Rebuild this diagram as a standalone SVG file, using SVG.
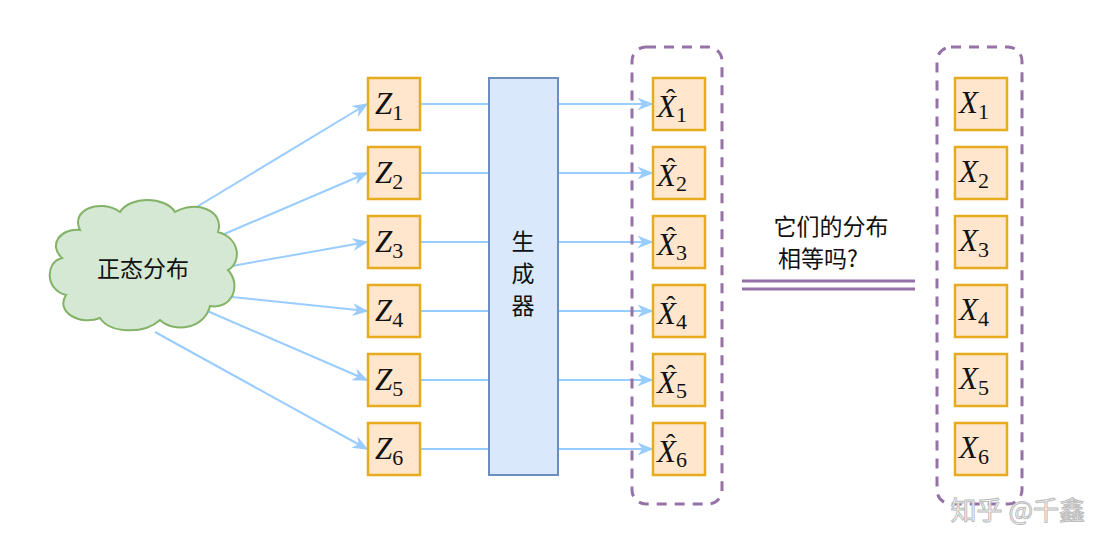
<svg xmlns="http://www.w3.org/2000/svg" width="1115" height="553" viewBox="0 0 1115 553">
<style>
.box{fill:#ffe6cc;stroke:#e6ac1e;stroke-width:2.5}
.m{font-family:"Liberation Serif",serif;font-size:31px;fill:#111}
.mi{font-style:italic}
.s{font-size:22px}
.hat{font-family:"Liberation Serif",serif;font-size:28px;fill:#111}
.cn{font-family:"Noto Sans CJK SC","Noto Sans",sans-serif;font-size:23px;fill:#111}
.ln{stroke:#99ccff;stroke-width:2;fill:none}
.dash{fill:none;stroke:#9673a6;stroke-width:3;stroke-dasharray:10 8}
</style>
<defs>
<marker id="ah2" viewBox="0 0 10 10" refX="9" refY="5" markerWidth="16" markerHeight="16" orient="auto" markerUnits="userSpaceOnUse"><path d="M0,1 L10,5 L0,9 L3,5 Z" fill="#99ccff"/></marker>
</defs>
<rect width="1115" height="553" fill="#fff"/>
<g id="connectors">
<path class="ln" marker-end="url(#ah2)" d="M175,220 L367,104"/>
<path class="ln" marker-end="url(#ah2)" d="M222,235 L367,173"/>
<path class="ln" marker-end="url(#ah2)" d="M232,266 L367,242"/>
<path class="ln" marker-end="url(#ah2)" d="M222,296 L367,311"/>
<path class="ln" marker-end="url(#ah2)" d="M205,310 L367,380"/>
<path class="ln" marker-end="url(#ah2)" d="M155,332 L367,449"/>
<path class="ln" d="M421,104H489M421,173H489M421,242H489M421,311H489M421,380H489M421,449H489"/>
<path class="ln" marker-end="url(#ah2)" d="M558,104H652"/>
<path class="ln" marker-end="url(#ah2)" d="M558,173H652"/>
<path class="ln" marker-end="url(#ah2)" d="M558,242H652"/>
<path class="ln" marker-end="url(#ah2)" d="M558,311H652"/>
<path class="ln" marker-end="url(#ah2)" d="M558,380H652"/>
<path class="ln" marker-end="url(#ah2)" d="M558,449H652"/>
</g>
<g id="cloud">
<path d="M80,230 C70,210 100,198 120,212 C130,196 165,196 175,212 C195,200 225,210 218,232 C240,238 242,262 228,270 C242,285 232,310 210,306 C205,328 175,334 160,320 C145,334 110,334 100,318 C80,326 55,312 66,295 C45,290 45,262 62,258 C48,245 60,228 80,230 Z" fill="#d5e8d4" stroke="#82b366" stroke-width="2"/>
<text class="cn" x="143" y="277" text-anchor="middle">正态分布</text>
</g>
<g id="generator">
<rect x="489" y="78" width="69" height="397" fill="#dae8fc" stroke="#6c8ebf" stroke-width="2"/>
<text class="cn" x="523" y="250" text-anchor="middle">生</text>
<text class="cn" x="523" y="282" text-anchor="middle">成</text>
<text class="cn" x="523" y="314" text-anchor="middle">器</text>
</g>
<g id="z-nodes">
<g id="z1"><rect class="box" x="368" y="78" width="52" height="52"/><text class="m" x="375" y="114"><tspan class="mi">Z</tspan><tspan class="s" dy="6">1</tspan></text></g>
<g id="z2"><rect class="box" x="368" y="147" width="52" height="52"/><text class="m" x="375" y="183"><tspan class="mi">Z</tspan><tspan class="s" dy="6">2</tspan></text></g>
<g id="z3"><rect class="box" x="368" y="216" width="52" height="52"/><text class="m" x="375" y="252"><tspan class="mi">Z</tspan><tspan class="s" dy="6">3</tspan></text></g>
<g id="z4"><rect class="box" x="368" y="285" width="52" height="52"/><text class="m" x="375" y="321"><tspan class="mi">Z</tspan><tspan class="s" dy="6">4</tspan></text></g>
<g id="z5"><rect class="box" x="368" y="354" width="52" height="52"/><text class="m" x="375" y="390"><tspan class="mi">Z</tspan><tspan class="s" dy="6">5</tspan></text></g>
<g id="z6"><rect class="box" x="368" y="423" width="52" height="52"/><text class="m" x="375" y="459"><tspan class="mi">Z</tspan><tspan class="s" dy="6">6</tspan></text></g>
</g>
<g id="generated-group">
<rect class="dash" x="632" y="47" width="90" height="457" rx="14"/>
<g id="xh1"><rect class="box" x="653" y="78" width="52" height="52"/><text class="m" x="657" y="117"><tspan class="mi">X</tspan><tspan class="s" dy="5">1</tspan></text><text class="hat" x="666" y="108">ˆ</text></g>
<g id="xh2"><rect class="box" x="653" y="147" width="52" height="52"/><text class="m" x="657" y="186"><tspan class="mi">X</tspan><tspan class="s" dy="5">2</tspan></text><text class="hat" x="666" y="177">ˆ</text></g>
<g id="xh3"><rect class="box" x="653" y="216" width="52" height="52"/><text class="m" x="657" y="255"><tspan class="mi">X</tspan><tspan class="s" dy="5">3</tspan></text><text class="hat" x="666" y="246">ˆ</text></g>
<g id="xh4"><rect class="box" x="653" y="285" width="52" height="52"/><text class="m" x="657" y="324"><tspan class="mi">X</tspan><tspan class="s" dy="5">4</tspan></text><text class="hat" x="666" y="315">ˆ</text></g>
<g id="xh5"><rect class="box" x="653" y="354" width="52" height="52"/><text class="m" x="657" y="393"><tspan class="mi">X</tspan><tspan class="s" dy="5">5</tspan></text><text class="hat" x="666" y="384">ˆ</text></g>
<g id="xh6"><rect class="box" x="653" y="423" width="52" height="52"/><text class="m" x="657" y="462"><tspan class="mi">X</tspan><tspan class="s" dy="5">6</tspan></text><text class="hat" x="666" y="453">ˆ</text></g>
</g>
<g id="question">
<text class="cn" x="831" y="235" text-anchor="middle">它们的分布</text>
<text class="cn" x="818" y="267" text-anchor="middle">相等吗?</text>
<path d="M742,281H915M742,289H915" stroke="#9673a6" stroke-width="3"/>
</g>
<g id="real-group">
<rect class="dash" x="937" y="47" width="85" height="457" rx="14"/>
<g id="x1"><rect class="box" x="955" y="78" width="52" height="52"/><text class="m" x="959" y="113"><tspan class="mi">X</tspan><tspan class="s" dy="6">1</tspan></text></g>
<g id="x2"><rect class="box" x="955" y="147" width="52" height="52"/><text class="m" x="959" y="182"><tspan class="mi">X</tspan><tspan class="s" dy="6">2</tspan></text></g>
<g id="x3"><rect class="box" x="955" y="216" width="52" height="52"/><text class="m" x="959" y="251"><tspan class="mi">X</tspan><tspan class="s" dy="6">3</tspan></text></g>
<g id="x4"><rect class="box" x="955" y="285" width="52" height="52"/><text class="m" x="959" y="320"><tspan class="mi">X</tspan><tspan class="s" dy="6">4</tspan></text></g>
<g id="x5"><rect class="box" x="955" y="354" width="52" height="52"/><text class="m" x="959" y="389"><tspan class="mi">X</tspan><tspan class="s" dy="6">5</tspan></text></g>
<g id="x6"><rect class="box" x="955" y="423" width="52" height="52"/><text class="m" x="959" y="458"><tspan class="mi">X</tspan><tspan class="s" dy="6">6</tspan></text></g>
</g>
<text x="1085" y="520" text-anchor="end" font-family="Noto Sans CJK SC,sans-serif" font-size="26" fill="#fff" stroke="#bbb" stroke-width="1">知乎 @千鑫</text>
</svg>
